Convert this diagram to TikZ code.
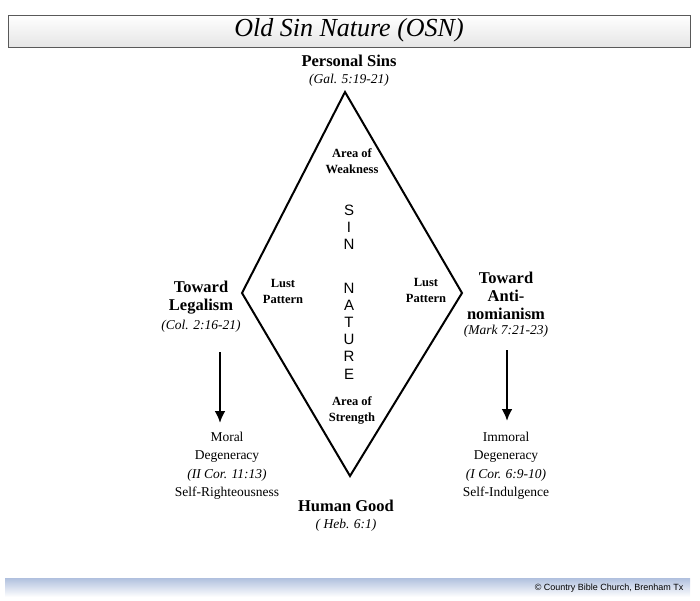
\documentclass[tikz,border=0pt]{standalone}
\usepackage{fontspec}
\setmainfont{Liberation Serif}
\setsansfont{Liberation Sans}
\usetikzlibrary{positioning,arrows.meta}

\definecolor{footblue}{RGB}{176,192,222}
\tikzset{
  lbl/.style={font=\fontsize{13.5}{18.5}\selectfont, align=center, inner sep=1pt},
  head/.style={font=\bfseries\fontsize{16.5}{18}\selectfont, align=center, inner sep=1pt},
  ref/.style={font=\itshape\fontsize{13.5}{15}\selectfont, inner sep=1pt},
  inlbl/.style={font=\bfseries\fontsize{12.5}{16}\selectfont, align=center, inner sep=1pt}
}

\begin{document}
\begin{tikzpicture}[x=1pt,y=-1pt]
\useasboundingbox (0,0) rectangle (700,600);
% title bar
\shade[top color=white, bottom color=gray!20, draw=gray!70!black, line width=1pt] (8,15) rectangle (690,47);
\node[font=\itshape\fontsize{26}{28}\selectfont] (title) at (349,30) {Old Sin Nature (OSN)};
% footer band
\shade[top color=footblue, bottom color=white] (5,578) rectangle (690,597);
\node[font=\sffamily\fontsize{9}{10}\selectfont, anchor=east] (copy) at (687,588) {\textcopyright\ Country Bible Church, Brenham Tx};

 \coordinate (top) at (345,92);
 \coordinate (rgt) at (462,293);
 \coordinate (bot) at (350,476);
 \coordinate (lft) at (242,293);
 \draw[line width=2pt, line join=miter] (top)--(rgt)--(bot)--(lft)--cycle;

 \node[head] (psins) at (349,61) {Personal Sins};
 \node[ref] (psref) at (349,80) {(Gal. 5:19-21)};

 \node[inlbl] (weak) at (352,161) {Area of\\Weakness};
 \node[inlbl] (strong) at (352,410) {Area of\\Strength};
 \node[inlbl] (lustl) at (283,291) {Lust\\Pattern};
 \node[inlbl] (lustr) at (426,290) {Lust\\Pattern};
 \node[font=\sffamily\fontsize{15}{17.2}\selectfont, align=center] (sin) at (349,227) {S\\I\\N};
 \node[font=\sffamily\fontsize{15}{17.2}\selectfont, align=center] (nature) at (349,331) {N\\A\\T\\U\\R\\E};

 \node[head] (legal) at (201,298) {Toward\\Legalism};
 \node[ref] (legref) at (201,326) {(Col. 2:16-21)};
 \node[head] (anti) at (506,296) {Toward\\Anti-\\nomianism};
 \node[ref] (antiref) at (506,331) {(Mark 7:21-23)};

 \coordinate (la) at (220,352);
 \coordinate (lb) at (220,423);
 \coordinate (ra) at (507,350);
 \coordinate (rb) at (507,421);
 \draw[line width=2.5pt,-{Latex[length=12pt,width=11pt]}] (la)--(lb);
 \draw[line width=2.5pt,-{Latex[length=12pt,width=11pt]}] (ra)--(rb);

 \node[lbl] (moral) at (227,466) {Moral\\Degeneracy\\\textit{(II Cor. 11:13)}\\Self-Righteousness};
 \node[lbl] (immoral) at (506,466) {Immoral\\Degeneracy\\\textit{(I Cor. 6:9-10)}\\Self-Indulgence};

 \node[head] (hgood) at (346,506) {Human Good};
 \node[ref] (hgref) at (346,525) {( Heb. 6:1)};
\end{tikzpicture}
\end{document}
